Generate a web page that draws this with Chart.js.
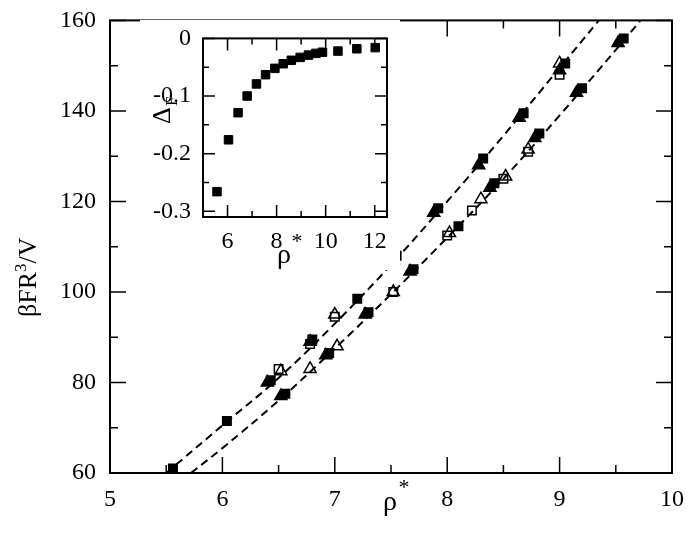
<!DOCTYPE html>
<html>
<head>
<meta charset="utf-8">
<script src="https://cdn.jsdelivr.net/npm/chart.js@4"></script>
<style>
body { margin: 0; background: #fff; }
#wrap { position: relative; width: 700px; height: 536px; }
#main { position: absolute; left: 0; top: 0; }
#inset { position: absolute; left: 140px; top: 20px; }
</style>
</head>
<body>
<div id="wrap">
<canvas id="main" width="688" height="536"></canvas>
<canvas id="inset" width="260" height="250"></canvas>
</div>
<script>
// main panel data, [rho*, betaFR^3/V]
var upperFilledSq = [[5.56,61],[6.04,71.5],[6.43,80.5],[6.8,89.5],[7.2,98.5],[7.55,108],[7.92,118.5],[8.32,129.5],[8.68,139.5],[9.05,150.5]];
var upperFilledTri = [[6.4,80],[6.78,89],[7.52,107],[7.88,117.5],[8.28,128],[8.64,138.5],[9.0,149]];
var upperOpenSq = [[6.5,83],[6.78,88.5],[7.0,94.5],[7.5,107],[9.0,148]];
var upperOpenTri = [[6.52,82.5],[7.0,95],[7.5,108],[9.0,150.5]];
var lowerFilledSq = [[6.56,77.5],[6.95,86.5],[7.3,95.5],[7.7,105],[8.1,114.5],[8.42,124],[8.82,135],[9.2,145],[9.57,156]];
var lowerFilledTri = [[6.52,77],[6.92,86],[7.27,95],[7.67,104.5],[8.38,123],[8.78,134],[9.15,144],[9.52,155]];
var lowerOpenSq = [[7.52,100],[8.0,112.5],[8.22,118],[8.5,125],[8.72,131]];
var lowerOpenTri = [[6.78,83],[7.02,88],[7.52,100],[8.02,113],[8.3,120.5],[8.52,125.5],[8.72,131.5]];
var upperCurve = [[5.5,60],[6,70.5],[6.5,81],[7,93],[7.5,106],[8,120],[8.5,134.5],[9,149.5],[9.35,160]];
var lowerCurve = [[5.72,60],[6,65.5],[6.5,76],[7,87.5],[7.5,99.5],[8,112],[8.5,125],[9,139],[9.5,153.5],[9.72,160]];

// inset data, [rho*, Delta_F]
var insetRho = [5.57,6.04,6.43,6.8,7.18,7.55,7.93,8.27,8.6,8.96,9.3,9.6,9.87,10.5,11.27,12.02];
var insetDelta = [-0.266,-0.176,-0.129,-0.1,-0.079,-0.063,-0.052,-0.044,-0.038,-0.033,-0.029,-0.026,-0.024,-0.022,-0.018,-0.016];

function pts(a) { return a.map(function (p) { return { x: p[0], y: p[1] }; }); }

function markers(data, style, filled, r) {
    return {
        type: 'scatter', data: pts(data), pointStyle: style, pointRadius: r,
        backgroundColor: filled ? '#000' : 'rgba(0,0,0,0)', borderColor: '#000', borderWidth: 1.5
    };
}
function curve(data) {
    return {
        type: 'line', data: pts(data), borderColor: '#000', borderWidth: 2, borderDash: [8, 5],
        pointRadius: 0, tension: 0.4, fill: false
    };
}

// frame and inward ticks on all four sides
function frame(xMinor, yMinor, len) {
    return {
        id: 'frame',
        afterDraw: function (chart) {
            var c = chart.ctx, a = chart.chartArea, sx = chart.scales.x, sy = chart.scales.y;
            c.save();
            c.strokeStyle = '#000'; c.lineWidth = 2;
            c.strokeRect(a.left, a.top, a.right - a.left, a.bottom - a.top);
            c.lineWidth = 1.5;
            c.beginPath();
            for (var v = sx.min; v <= sx.max + 1e-9; v += xMinor) {
                var major = Math.abs(v / sx.options.ticks.stepSize - Math.round(v / sx.options.ticks.stepSize)) < 1e-6;
                var l = major ? len : len / 2, px = sx.getPixelForValue(v);
                c.moveTo(px, a.bottom); c.lineTo(px, a.bottom - l);
                c.moveTo(px, a.top); c.lineTo(px, a.top + l);
            }
            var ys = sy.options.ticks.stepSize;
            for (var w = Math.ceil(sy.min / yMinor - 1e-6) * yMinor; w <= sy.max + 1e-9; w += yMinor) {
                var mj = Math.abs(w / ys - Math.round(w / ys)) < 1e-6;
                var ll = mj ? len : len / 2, py = sy.getPixelForValue(w);
                c.moveTo(a.left, py); c.lineTo(a.left + ll, py);
                c.moveTo(a.right, py); c.lineTo(a.right - ll, py);
            }
            c.stroke();
            c.restore();
        }
    };
}

function fixedAxes(yWidth, xHeight) {
    return {
        x: { afterFit: function (s) { s.height = xHeight; } },
        y: { afterFit: function (s) { s.width = yWidth; } }
    };
}

var serif = '"Liberation Serif", "DejaVu Serif", serif';

var mainFix = fixedAxes(110, 63);
new Chart(document.getElementById('main'), {
    type: 'scatter',
    data: {
        datasets: [
            curve(upperCurve), curve(lowerCurve),
            markers(upperFilledSq, 'rect', true, 6), markers(upperFilledTri, 'triangle', true, 7),
            markers(upperOpenSq, 'rect', false, 6), markers(upperOpenTri, 'triangle', false, 7),
            markers(lowerFilledSq, 'rect', true, 6), markers(lowerFilledTri, 'triangle', true, 7),
            markers(lowerOpenSq, 'rect', false, 6), markers(lowerOpenTri, 'triangle', false, 7)
        ]
    },
    options: {
        responsive: false, animation: false,
        layout: { padding: { top: 6, right: 0 } },
        plugins: { legend: { display: false }, tooltip: { enabled: false } },
        scales: {
            x: {
                min: 5, max: 10, afterFit: mainFix.x.afterFit,
                ticks: { stepSize: 1, color: '#000', font: { family: serif, size: 24 }, padding: 4 },
                grid: { display: false }, border: { display: false }
            },
            y: {
                min: 60, max: 160, afterFit: mainFix.y.afterFit,
                ticks: { stepSize: 20, color: '#000', font: { family: serif, size: 24 }, padding: 6 },
                grid: { display: false }, border: { display: false }
            }
        }
    },
    plugins: [frame(0.5, 10, 16), {
        id: 'titles',
        afterDraw: function (chart) {
            var c = chart.ctx;
            c.save();
            c.fillStyle = '#000';
            c.font = '28px ' + serif;
            c.textAlign = 'center';
            c.fillText('ρ', 390, 510);
            c.font = '22px ' + serif;
            c.fillText('*', 404, 494);
            c.translate(36, 242);
            c.rotate(-Math.PI / 2);
            c.font = '26px ' + serif;
            c.textAlign = 'left';
            var w1 = c.measureText('βFR').width;
            c.fillText('βFR', -75, 0);
            c.font = '17px ' + serif;
            c.fillText('3', -75 + w1, -10);
            var w2 = c.measureText('3').width;
            c.font = '26px ' + serif;
            c.fillText('/V', -75 + w1 + w2, 0);
            c.restore();
        }
    }]
});

var insetFix = fixedAxes(63, 53);
new Chart(document.getElementById('inset'), {
    type: 'scatter',
    data: {
        datasets: [{
            data: insetRho.map(function (r, i) { return { x: r, y: insetDelta[i] }; }),
            pointStyle: 'rect', pointRadius: 6, backgroundColor: '#000', borderColor: '#000'
        }]
    },
    options: {
        responsive: false, animation: false,
        layout: { padding: { top: 6, right: 13 } },
        plugins: { legend: { display: false }, tooltip: { enabled: false } },
        scales: {
            x: {
                min: 5, max: 12.5, afterFit: insetFix.x.afterFit,
                ticks: { stepSize: 2, color: '#000', font: { family: serif, size: 24 }, padding: 2 },
                afterBuildTicks: function (s) { s.ticks = [6, 8, 10, 12].map(function (v) { return { value: v }; }); },
                grid: { display: false }, border: { display: false }
            },
            y: {
                min: -0.31, max: 0, afterFit: insetFix.y.afterFit,
                ticks: { stepSize: 0.1, color: '#000', font: { family: serif, size: 24 }, padding: 4,
                    callback: function (v) { return v === 0 ? '0' : v.toFixed(1); } },
                afterBuildTicks: function (s) { s.ticks = [0, -0.1, -0.2, -0.3].map(function (v) { return { value: v }; }); },
                grid: { display: false }, border: { display: false }
            }
        }
    },
    plugins: [{
        id: 'bg',
        beforeDraw: function (chart) {
            var c = chart.ctx;
            c.save(); c.fillStyle = '#fff'; c.fillRect(0, 0, chart.width, chart.height); c.restore();
        }
    }, frame(1, 0.05, 12), {
        id: 'insetTitles',
        afterDraw: function (chart) {
            var c = chart.ctx;
            c.save();
            c.fillStyle = '#000';
            c.font = '28px ' + serif;
            c.textAlign = 'center';
            c.fillText('ρ', 144, 243);
            c.font = '22px ' + serif;
            c.fillText('*', 157, 228);
            c.translate(30, 90);
            c.rotate(-Math.PI / 2);
            c.font = '26px ' + serif;
            c.textAlign = 'left';
            c.fillText('Δ', -14, 0);
            c.font = '17px ' + serif;
            c.fillText('F', 4, 7);
            c.restore();
        }
    }]
});
</script>
</body>
</html>
